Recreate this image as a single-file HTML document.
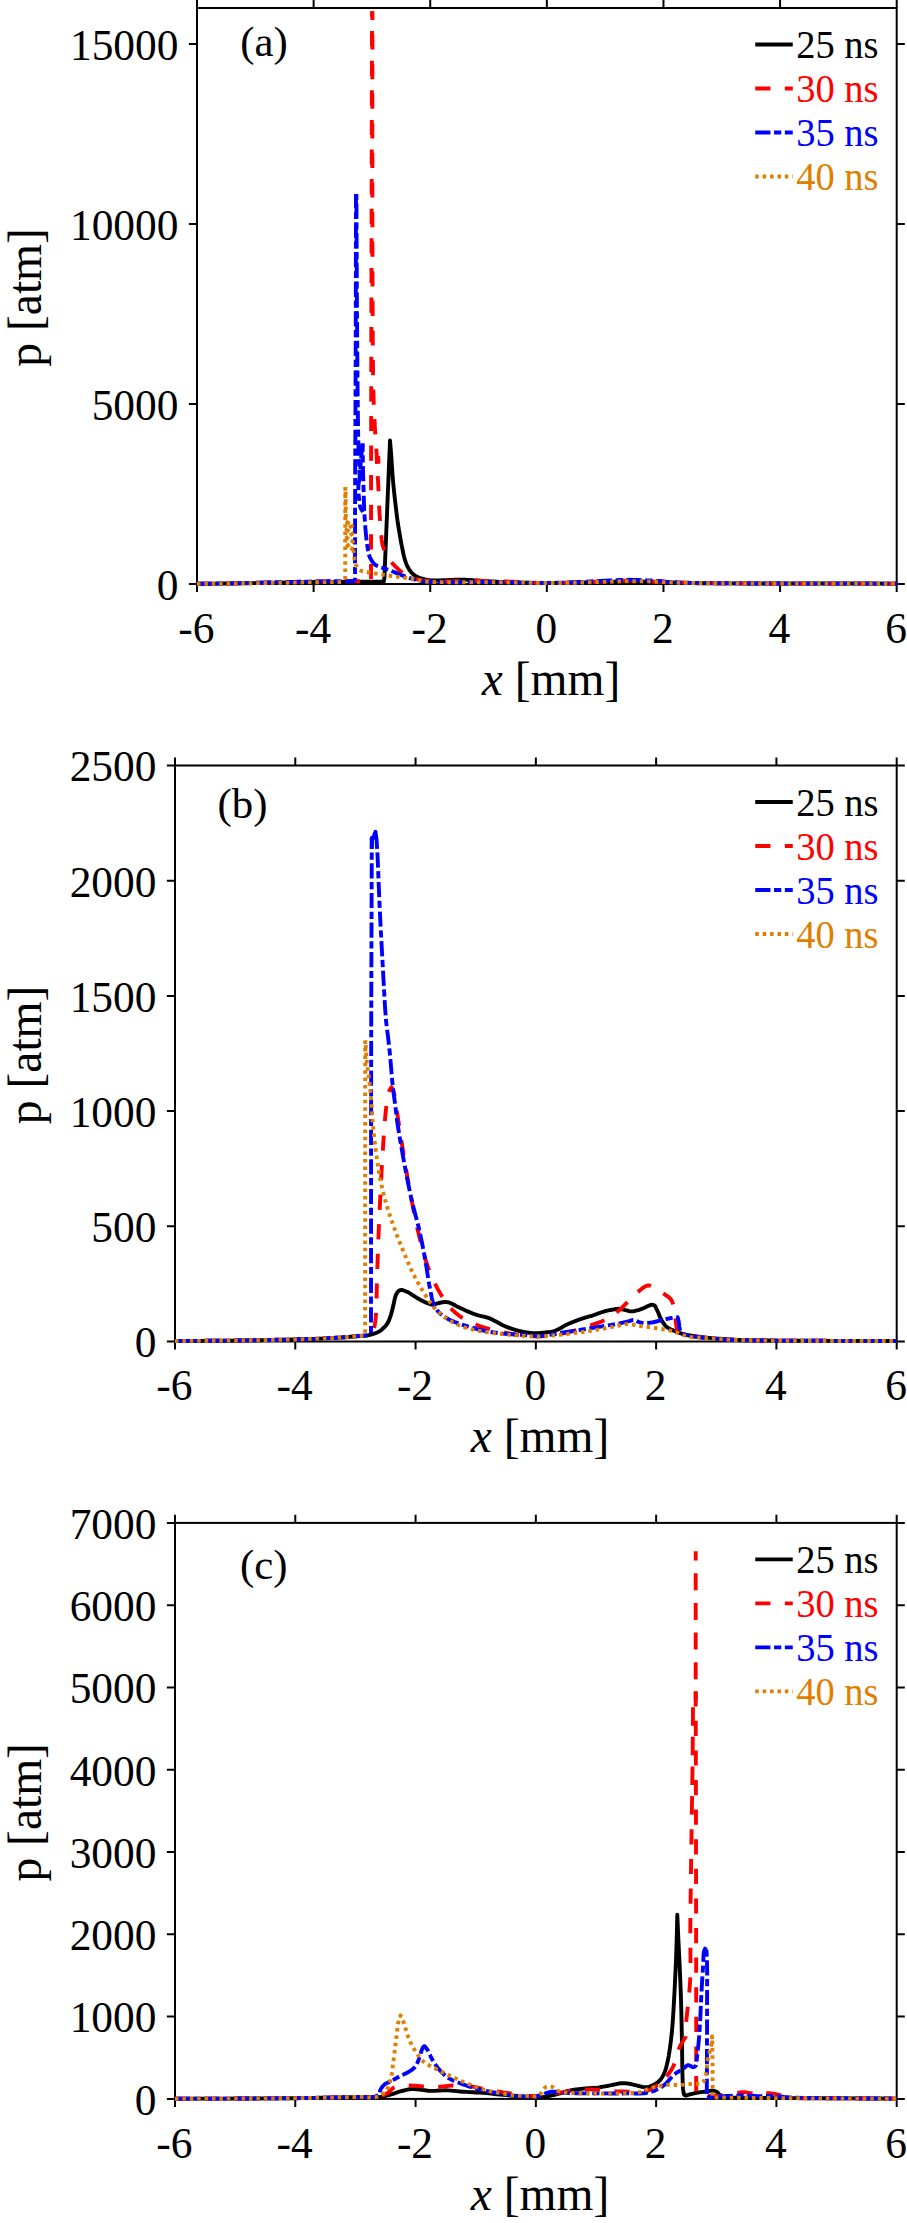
<!DOCTYPE html>
<html lang="en"><head><meta charset="utf-8"><title>Pressure profiles</title>
<style>html,body{margin:0;padding:0;background:#fff}body{width:907px;height:2223px;overflow:hidden}svg{display:block}text{font-family:"Liberation Serif", "DejaVu Serif", serif;fill:#000}</style></head><body>
<svg width="907" height="2223" viewBox="0 0 907 2223">
<rect x="0" y="0" width="907" height="2223" fill="#ffffff"/>
<g id="panel-a">
<clipPath id="clip-a"><rect x="197" y="11.2" width="701.7" height="578"/></clipPath>
<rect x="197" y="8" width="699.7" height="576" fill="none" stroke="#000" stroke-width="2.0"/>
<path d="M197 584v8.1M197 8v-8.1M313.62 584v8.1M313.62 8v-8.1M430.23 584v8.1M430.23 8v-8.1M546.85 584v8.1M546.85 8v-8.1M663.47 584v8.1M663.47 8v-8.1M780.08 584v8.1M780.08 8v-8.1M896.7 584v8.1M896.7 8v-8.1M197 584h-8.1M896.7 584h8.1M197 404h-8.1M896.7 404h8.1M197 224h-8.1M896.7 224h8.1M197 44h-8.1M896.7 44h8.1" fill="none" stroke="#000" stroke-width="2.0"/>
<text transform="translate(196.4 642.75) scale(1.015 1.05)" font-size="42.8" text-anchor="middle">-6</text>
<text transform="translate(313.02 642.75) scale(1.015 1.05)" font-size="42.8" text-anchor="middle">-4</text>
<text transform="translate(429.63 642.75) scale(1.015 1.05)" font-size="42.8" text-anchor="middle">-2</text>
<text transform="translate(546.25 642.75) scale(1.015 1.05)" font-size="42.8" text-anchor="middle">0</text>
<text transform="translate(662.87 642.75) scale(1.015 1.05)" font-size="42.8" text-anchor="middle">2</text>
<text transform="translate(779.48 642.75) scale(1.015 1.05)" font-size="42.8" text-anchor="middle">4</text>
<text transform="translate(896.1 642.75) scale(1.015 1.05)" font-size="42.8" text-anchor="middle">6</text>
<text transform="translate(178.5 599.8) scale(1.015 1.05)" font-size="42.8" text-anchor="end">0</text>
<text transform="translate(178.5 419.8) scale(1.015 1.05)" font-size="42.8" text-anchor="end">5000</text>
<text transform="translate(178.5 239.8) scale(1.015 1.05)" font-size="42.8" text-anchor="end">10000</text>
<text transform="translate(178.5 59.8) scale(1.015 1.05)" font-size="42.8" text-anchor="end">15000</text>
<text x="551.05" y="694.6" font-size="47.5" text-anchor="middle"><tspan font-style="italic">x</tspan> [mm]</text>
<text transform="translate(41.1 297.4) rotate(-90)" font-size="47.5" text-anchor="middle">p [atm]</text>
<g clip-path="url(#clip-a)" fill="none" stroke-width="3.9" stroke-linejoin="round">
<path d="M197 583.8L204.18 583.74L211.39 583.68L218.6 583.63L225.78 583.57L232.92 583.49L240 583.4L246.75 583.29L253.44 583.16L260.09 583.01L266.72 582.87L273.35 582.73L280 582.6L286.73 582.48L293.55 582.37L300.36 582.26L307.09 582.16L313.67 582.07L320 582L325.23 581.95L330.26 581.9L335.16 581.87L340.03 581.84L344.95 581.82L350 581.8L355.49 581.79L361.06 581.78L366.68 581.79L372.33 581.79L377.98 581.8L383.6 581.8L384.4 578L390 440.5L390.2 442.89L390.4 445.25L390.6 447.62L390.81 450.01L391 452.46L391.2 455L391.42 458.09L391.63 461.31L391.84 464.62L392.05 467.94L392.27 471.22L392.5 474.4L392.73 477.25L392.97 480.06L393.21 482.84L393.47 485.58L393.73 488.3L394 491L394.27 493.55L394.54 496.08L394.83 498.58L395.12 501.07L395.41 503.54L395.7 506L395.98 508.37L396.25 510.73L396.52 513.08L396.8 515.41L397.09 517.72L397.4 520L397.71 522.14L398.03 524.24L398.36 526.32L398.7 528.4L399.04 530.49L399.4 532.6L399.77 534.81L400.16 537.05L400.55 539.29L400.95 541.54L401.37 543.78L401.8 546L402.24 548.22L402.7 550.49L403.17 552.75L403.65 554.95L404.16 557.05L404.7 559L405.12 560.4L405.55 561.72L405.99 562.97L406.45 564.18L406.95 565.35L407.5 566.5L408.05 567.55L408.64 568.58L409.25 569.58L409.9 570.53L410.58 571.44L411.3 572.3L412 573.05L412.73 573.76L413.48 574.43L414.27 575.06L415.11 575.65L416 576.2L417.07 576.77L418.21 577.28L419.41 577.74L420.66 578.16L421.92 578.54L423.2 578.9L424.58 579.25L425.99 579.56L427.42 579.84L428.89 580.07L430.42 580.25L432 580.4L434.01 580.5L436.11 580.51L438.28 580.46L440.5 580.37L442.75 580.28L445 580.2L447.44 580.11L449.92 579.98L452.43 579.84L454.96 579.71L457.49 579.62L460 579.6L462.5 579.65L465 579.76L467.5 579.9L470 580.07L472.5 580.24L475 580.4L477.48 580.56L479.92 580.73L482.37 580.9L484.84 581.07L487.37 581.24L490 581.4L493.1 581.57L496.25 581.73L499.47 581.89L502.81 582.03L506.31 582.17L510 582.3L515.34 582.46L521.16 582.61L527.26 582.75L533.41 582.86L539.39 582.95L545 583L549.38 583.01L553.56 583.01L557.62 582.98L561.65 582.93L565.75 582.87L570 582.8L574.84 582.7L579.8 582.57L584.83 582.43L589.9 582.27L594.97 582.13L600 582L605 581.87L610 581.73L615 581.6L620 581.49L625 581.42L630 581.4L634.95 581.45L639.84 581.56L644.73 581.71L649.68 581.88L654.75 582.05L660 582.2L665.98 582.37L671.79 582.55L677.75 582.73L684.21 582.9L691.51 583.06L700 583.2L724.2 583.41L754.61 583.52L789.17 583.56L825.81 583.56L862.44 583.56L897 583.6" stroke="#000000"/>
<path d="M197 583.8L204.18 583.71L211.39 583.62L218.6 583.53L225.78 583.43L232.92 583.33L240 583.2L246.75 583.05L253.44 582.89L260.09 582.71L266.72 582.53L273.35 582.36L280 582.2L286.73 582.05L293.55 581.9L300.36 581.75L307.09 581.61L313.67 581.5L320 581.4L325.31 581.33L330.53 581.28L335.62 581.24L340.58 581.21L345.38 581.2L350 581.2L353.66 581.21L357.15 581.24L360.54 581.28L363.88 581.32L367.21 581.36L370.6 581.4" stroke="#ff0000" stroke-dasharray="15.2 14.4"/>
<path d="M372.2 -57.7L372.02 20.99L371.84 102.57L371.65 184.16L371.47 262.85L371.32 335.76L371.2 400L371.15 435.01L371.11 466.58L371.08 495.85L371.05 523.99L371.03 552.12L371 581.4" stroke="#ff0000" stroke-dasharray="15.2 14.4"/>
<path d="M372.4 -54.4L372.41 7.18L372.39 71.77L372.36 136.36L372.37 197.94L372.44 253.49L372.6 300L372.7 320.67L372.77 339.33L372.87 356.29L373.02 371.86L373.25 386.32L373.6 400L373.93 408.9L374.34 417.51L374.79 425.63L375.24 433.05L375.66 439.58L376 445L376.14 447.09L376.27 448.88L376.39 450.48L376.51 451.96L376.61 453.44L376.7 455L376.77 456.55L376.83 458.09L376.87 459.62L376.91 461.15L376.95 462.67L377 464.2" stroke="#ff0000" stroke-dasharray="15.2 14.4"/>
<path d="M378.2 456L378.5 463.6" stroke="#ff0000"/>
<path d="M377.7 476.1L377.78 477.36L377.86 478.55L377.94 479.74L378.02 481L378.11 482.4L378.2 484L378.38 487.77L378.55 492.3L378.74 497.33L378.95 502.63L379.2 507.93L379.5 513L379.85 518.23L380.24 523.78L380.67 529.35L381.14 534.62L381.65 539.27L382.2 543L382.47 544.37L382.74 545.53L383.02 546.55L383.31 547.51L383.64 548.47L384 549.5L384.41 550.67L384.85 551.86L385.32 553.05L385.83 554.23L386.38 555.38L387 556.5L387.7 557.6L388.48 558.66L389.31 559.7L390.17 560.72L391.04 561.72L391.9 562.7L392.73 563.63L393.57 564.55L394.42 565.44L395.27 566.32L396.14 567.17L397 568L397.81 568.76L398.6 569.5L399.39 570.21L400.21 570.92L401.07 571.61L402 572.3L403.19 573.13L404.45 573.97L405.77 574.79L407.15 575.58L408.56 576.33L410 577L411.53 577.64L413.08 578.21L414.67 578.73L416.33 579.2L418.1 579.62L420 580L422.87 580.44L425.99 580.76L429.3 581L432.77 581.17L436.35 581.29L440 581.4L444.72 581.46L449.77 581.42L455 581.32L460.22 581.19L465.28 581.07L470 581L473.57 580.98L476.97 580.96L480.25 580.94L483.48 580.94L486.71 580.96L490 581L493.33 581.06L496.67 581.14L500 581.24L503.33 581.35L506.67 581.47L510 581.6L513.37 581.75L516.77 581.93L520.18 582.11L523.55 582.29L526.83 582.46L530 582.6L532.58 582.7L535.02 582.79L537.4 582.87L539.8 582.93L542.3 582.97L545 583L548.77 583L552.78 582.96L556.96 582.9L561.26 582.81L565.63 582.71L570 582.6L574.84 582.47L579.8 582.31L584.83 582.14L589.9 581.96L594.97 581.77L600 581.6L605 581.41L610 581.19L615 580.96L620 580.77L625 580.64L630 580.6L634.95 580.67L639.84 580.84L644.73 581.07L649.68 581.33L654.75 581.58L660 581.8L666.24 582.02L672.61 582.24L679.13 582.46L685.85 582.66L692.8 582.84L700 583L709.02 583.15L718.2 583.26L727.72 583.34L737.74 583.39L748.45 583.45L760 583.5L779.61 583.57L801.54 583.62L825.01 583.64L849.27 583.66L873.52 583.67L897 583.7" stroke="#ff0000" stroke-dasharray="15.2 14.4"/>
<path d="M197 583.8L204.18 583.71L211.39 583.62L218.6 583.53L225.78 583.43L232.92 583.33L240 583.2L246.75 583.05L253.44 582.89L260.09 582.71L266.72 582.53L273.35 582.36L280 582.2L286.77 582.05L293.68 581.9L300.58 581.75L307.36 581.61L313.87 581.5L320 581.4L324.64 581.34L329.2 581.28L333.6 581.24L337.75 581.2L341.58 581.19L345 581.2L346.86 581.22L348.53 581.25L350.08 581.28L351.57 581.32L353.05 581.36L354.6 581.4" stroke="#0000ff" stroke-dasharray="15.2 3.6 7.2 3.6"/>
<path d="M356 193.9L355.95 219.95L355.91 246.05L355.87 272.14L355.82 298.2L355.77 324.16L355.7 350L355.61 375.7L355.5 401.91L355.39 428.03L355.27 453.48L355.17 477.67L355.1 500L355.07 515L355.05 528.96L355.03 542.24L355.02 555.18L355.01 568.12L355 581.4" stroke="#0000ff" stroke-dasharray="15.2 3.6 7.2 3.6" stroke-dashoffset="1"/>
<path d="M356.4 193.9L356.48 211.62L356.55 229.38L356.63 247.15L356.71 264.87L356.8 282.5L356.9 300L357.01 317.36L357.14 335.22L357.27 353L357.41 370.11L357.55 385.97L357.7 400L357.79 407.85L357.88 415.11L357.97 421.87L358.07 428.21L358.18 434.23L358.3 440L358.4 444.08L358.51 447.92L358.62 451.59L358.74 455.12L358.87 458.57L359 462L359.12 464.96L359.25 467.83L359.39 470.64L359.53 473.41L359.66 476.19L359.8 479L359.96 476.17L360.11 473.36L360.26 470.54L360.41 467.72L360.59 464.87L360.8 462L361.06 458.96L361.34 455.89L361.65 452.8L361.97 449.69L362.29 446.59L362.6 443.5" stroke="#0000ff" stroke-dasharray="15.2 3.6 7.2 3.6" stroke-dashoffset="19.9"/>
<path d="M359.6 478L359.38 479.32L359.14 480.62L358.91 481.92L358.69 483.24L358.51 484.59L358.4 486L358.35 487.73L358.37 489.54L358.45 491.39L358.57 493.27L358.72 495.15L358.9 497L359.08 498.91L359.28 500.89L359.5 502.87L359.79 504.77L360.14 506.51L360.6 508L360.97 508.81L361.38 509.52L361.83 510.16L362.29 510.76L362.75 511.36L363.2 512" stroke="#0000ff" stroke-dasharray="15.2 3.6 7.2 3.6" stroke-dashoffset="3"/>
<path d="M362.6 443.5L362.66 447.96L362.72 452.47L362.78 456.98L362.84 461.44L362.92 465.8L363 470L363.09 473.52L363.18 476.95L363.29 480.3L363.4 483.58L363.5 486.81L363.6 490L363.68 492.86L363.76 495.69L363.83 498.46L363.91 501.2L364 503.88L364.1 506.5L364.2 508.79L364.3 511.01L364.42 513.19L364.54 515.36L364.66 517.52L364.8 519.7L364.94 521.9L365.09 524.1L365.24 526.3L365.41 528.5L365.6 530.7L365.8 532.9L366.02 535.14L366.26 537.41L366.52 539.68L366.79 541.92L367.08 544.1L367.4 546.2L367.67 547.97L367.94 549.72L368.22 551.43L368.55 553.08L368.93 554.64L369.4 556.1L369.85 557.22L370.36 558.29L370.91 559.31L371.49 560.26L372.09 561.16L372.7 562L373.19 562.64L373.68 563.24L374.18 563.8L374.72 564.32L375.32 564.82L376 565.3L377.1 565.9L378.38 566.43L379.76 566.92L381.2 567.38L382.64 567.83L384 568.3L385.22 568.75L386.41 569.17L387.59 569.6L388.79 570.03L390.05 570.49L391.4 571L393.38 571.78L395.5 572.66L397.72 573.59L400.02 574.54L402.36 575.45L404.7 576.3L407.23 577.17L409.81 578.04L412.43 578.88L415.1 579.66L417.82 580.34L420.6 580.9L423.7 581.34L426.89 581.63L430.14 581.81L433.43 581.93L436.72 582.01L440 582.1L443.31 582.19L446.64 582.23L449.98 582.24L453.32 582.23L456.66 582.21L460 582.2L463.33 582.18L466.67 582.14L470 582.09L473.33 582.05L476.67 582.01L480 582L483.33 582.01L486.67 582.03L490 582.06L493.33 582.1L496.67 582.15L500 582.2L503.31 582.26L506.58 582.32L509.86 582.39L513.17 582.46L516.54 582.53L520 582.6L524.01 582.68L528.13 582.77L532.33 582.87L536.56 582.94L540.8 582.99L545 583L549.14 582.97L553.25 582.9L557.36 582.8L561.5 582.68L565.7 582.55L570 582.4L574.84 582.21L579.8 581.98L584.83 581.74L589.9 581.48L594.97 581.23L600 581L605.03 580.76L610.1 580.5L615.17 580.24L620.2 580.01L625.16 579.86L630 579.8L634.33 579.84L638.61 579.96L642.82 580.13L646.96 580.34L651.02 580.57L655 580.8L658.44 581.03L661.75 581.29L665 581.57L668.25 581.84L671.56 582.09L675 582.3L678.88 582.48L682.73 582.62L686.65 582.73L690.76 582.83L695.18 582.91L700 583L708.22 583.13L717.18 583.23L726.86 583.31L737.23 583.38L748.29 583.44L760 583.5L779.61 583.57L801.54 583.62L825.01 583.64L849.27 583.66L873.52 583.67L897 583.7" stroke="#0000ff" stroke-dasharray="15.2 3.6 7.2 3.6" stroke-dashoffset="7"/>
<path d="M197 583.8L204.18 583.74L211.39 583.68L218.6 583.61L225.78 583.55L232.92 583.48L240 583.4L246.75 583.31L253.44 583.22L260.09 583.11L266.72 583.01L273.35 582.9L280 582.8L286.78 582.7L293.69 582.59L300.6 582.48L307.38 582.37L313.89 582.28L320 582.2L324.44 582.15L328.64 582.12L332.67 582.09L336.62 582.06L340.57 582.03L344.6 582" stroke="#e07e00" stroke-dasharray="3.5 3.9"/>
<path d="M345.3 487.2L345.2 581.5" stroke="#e07e00" stroke-dasharray="3.5 3.9"/>
<path d="M345.6 487.2L345.8 521.5" stroke="#e07e00" stroke-dasharray="3.5 3.9" stroke-dashoffset="2.8"/>
<path d="M345.8 521.5L352.2 525.6L346.4 529.6L352.5 533.6L346.6 537.6L353 541.6L347.2 545.8L353.4 549.5" stroke="#e07e00" stroke-dasharray="4.6 2.2"/>
<path d="M353.4 549.5L353.53 550.7L353.65 551.9L353.77 553.1L353.9 554.3L354.04 555.5L354.2 556.7L354.36 557.93L354.49 559.18L354.65 560.43L354.84 561.66L355.12 562.85L355.5 564L355.97 565.12L356.52 566.24L357.14 567.32L357.84 568.34L358.62 569.25L359.5 570L360.53 570.58L361.69 571L362.95 571.31L364.24 571.54L365.54 571.75L366.8 572L368 572.26L369.2 572.49L370.39 572.71L371.59 572.91L372.8 573.11L374 573.3L375.21 573.48L376.43 573.64L377.65 573.8L378.87 573.96L380.08 574.12L381.3 574.3L382.52 574.5L383.74 574.73L384.97 574.95L386.18 575.18L387.4 575.4L388.6 575.6L389.71 575.76L390.77 575.91L391.82 576.04L392.91 576.18L394.09 576.33L395.4 576.5L397.84 576.82L400.64 577.19L403.66 577.59L406.75 578.01L409.78 578.45L412.6 578.9L414.9 579.33L417.11 579.81L419.28 580.3L421.42 580.76L423.59 581.18L425.8 581.5L428.1 581.73L430.4 581.87L432.71 581.96L435.06 582.01L437.49 582.05L440 582.1L443.14 582.16L446.41 582.19L449.79 582.2L453.21 582.2L456.63 582.2L460 582.2L463.33 582.2L466.67 582.2L470 582.2L473.33 582.2L476.67 582.2L480 582.2L483.33 582.21L486.67 582.22L490 582.23L493.33 582.25L496.67 582.27L500 582.3L503.31 582.34L506.58 582.38L509.86 582.43L513.17 582.49L516.54 582.54L520 582.6L524.01 582.67L528.13 582.75L532.33 582.83L536.56 582.91L540.8 582.97L545 583L549.14 583.01L553.25 583L557.36 582.97L561.5 582.93L565.7 582.87L570 582.8L574.84 582.7L579.8 582.58L584.83 582.44L589.9 582.29L594.97 582.14L600 582L605.07 581.85L610.22 581.69L615.38 581.52L620.45 581.37L625.35 581.26L630 581.2L633.57 581.19L636.97 581.21L640.25 581.26L643.48 581.32L646.71 581.41L650 581.5L653.29 581.62L656.52 581.77L659.75 581.93L663.03 582.1L666.43 582.26L670 582.4L674.53 582.55L679.17 582.68L683.98 582.8L689.01 582.91L694.33 583.01L700 583.1L708.53 583.21L717.57 583.29L727.19 583.36L737.43 583.41L748.35 583.45L760 583.5L779.61 583.56L801.54 583.6L825.01 583.63L849.27 583.65L873.52 583.67L897 583.7" stroke="#e07e00" stroke-dasharray="3.5 3.9"/>
</g>
<text x="240.2" y="56.2" font-size="42.8">(a)</text>
<path d="M755.25 44.5H792.75" stroke="#000000" stroke-width="3.9" fill="none"/>
<text transform="translate(796.2 58.4) scale(1 1.02)" font-size="38.5" style="fill:#000000">25 ns</text>
<path d="M755.25 88.5H792.75" stroke="#ff0000" stroke-width="3.9" fill="none" stroke-dasharray="15.2 14.4"/>
<text transform="translate(796.2 102.4) scale(1 1.02)" font-size="38.5" style="fill:#ff0000">30 ns</text>
<path d="M755.25 132.5H792.75" stroke="#0000ff" stroke-width="3.9" fill="none" stroke-dasharray="15.2 3.6 7.2 3.6"/>
<text transform="translate(796.2 146.4) scale(1 1.02)" font-size="38.5" style="fill:#0000ff">35 ns</text>
<path d="M755.25 176.5H792.75" stroke="#e07e00" stroke-width="3.9" fill="none" stroke-dasharray="3.5 3.9"/>
<text transform="translate(796.2 190.4) scale(1 1.02)" font-size="38.5" style="fill:#e07e00">40 ns</text>
</g>
<g id="panel-b">
<clipPath id="clip-b"><rect x="175" y="768.7" width="723.7" height="578"/></clipPath>
<rect x="175" y="765.5" width="721.7" height="576" fill="none" stroke="#000" stroke-width="2.0"/>
<path d="M175 1341.5v8.1M175 765.5v-8.1M295.28 1341.5v8.1M295.28 765.5v-8.1M415.57 1341.5v8.1M415.57 765.5v-8.1M535.85 1341.5v8.1M535.85 765.5v-8.1M656.13 1341.5v8.1M656.13 765.5v-8.1M776.42 1341.5v8.1M776.42 765.5v-8.1M896.7 1341.5v8.1M896.7 765.5v-8.1M175 1341.5h-8.1M896.7 1341.5h8.1M175 1226.3h-8.1M896.7 1226.3h8.1M175 1111.1h-8.1M896.7 1111.1h8.1M175 995.9h-8.1M896.7 995.9h8.1M175 880.7h-8.1M896.7 880.7h8.1M175 765.5h-8.1M896.7 765.5h8.1" fill="none" stroke="#000" stroke-width="2.0"/>
<text transform="translate(174.4 1400.25) scale(1.015 1.05)" font-size="42.8" text-anchor="middle">-6</text>
<text transform="translate(294.68 1400.25) scale(1.015 1.05)" font-size="42.8" text-anchor="middle">-4</text>
<text transform="translate(414.97 1400.25) scale(1.015 1.05)" font-size="42.8" text-anchor="middle">-2</text>
<text transform="translate(535.25 1400.25) scale(1.015 1.05)" font-size="42.8" text-anchor="middle">0</text>
<text transform="translate(655.53 1400.25) scale(1.015 1.05)" font-size="42.8" text-anchor="middle">2</text>
<text transform="translate(775.82 1400.25) scale(1.015 1.05)" font-size="42.8" text-anchor="middle">4</text>
<text transform="translate(896.1 1400.25) scale(1.015 1.05)" font-size="42.8" text-anchor="middle">6</text>
<text transform="translate(156.5 1357.3) scale(1.015 1.05)" font-size="42.8" text-anchor="end">0</text>
<text transform="translate(156.5 1242.1) scale(1.015 1.05)" font-size="42.8" text-anchor="end">500</text>
<text transform="translate(156.5 1126.9) scale(1.015 1.05)" font-size="42.8" text-anchor="end">1000</text>
<text transform="translate(156.5 1011.7) scale(1.015 1.05)" font-size="42.8" text-anchor="end">1500</text>
<text transform="translate(156.5 896.5) scale(1.015 1.05)" font-size="42.8" text-anchor="end">2000</text>
<text transform="translate(156.5 781.3) scale(1.015 1.05)" font-size="42.8" text-anchor="end">2500</text>
<text x="540.05" y="1452.1" font-size="47.5" text-anchor="middle"><tspan font-style="italic">x</tspan> [mm]</text>
<text transform="translate(41.1 1054.9) rotate(-90)" font-size="47.5" text-anchor="middle">p [atm]</text>
<g clip-path="url(#clip-b)" fill="none" stroke-width="3.9" stroke-linejoin="round">
<path d="M175 1341L184.2 1340.94L193.43 1340.88L202.66 1340.83L211.86 1340.77L220.99 1340.69L230 1340.6L238.54 1340.5L247.05 1340.38L255.5 1340.26L263.83 1340.12L272.02 1339.97L280 1339.8L287.03 1339.63L294.01 1339.46L300.86 1339.27L307.53 1339.06L313.93 1338.84L320 1338.6L324.58 1338.39L329 1338.17L333.26 1337.94L337.36 1337.69L341.27 1337.45L345 1337.2L347.79 1337L350.51 1336.78L353.13 1336.56L355.6 1336.35L357.9 1336.16L360 1336L361.24 1335.93L362.37 1335.89L363.42 1335.85L364.44 1335.81L365.45 1335.73L366.5 1335.6L367.59 1335.42L368.68 1335.2L369.76 1334.95L370.84 1334.66L371.92 1334.35L373 1334L374.14 1333.6L375.31 1333.17L376.48 1332.71L377.61 1332.21L378.7 1331.67L379.7 1331.1L380.51 1330.57L381.27 1330L381.99 1329.41L382.67 1328.79L383.34 1328.16L384 1327.5L384.65 1326.83L385.29 1326.15L385.91 1325.45L386.5 1324.71L387.07 1323.93L387.6 1323.1L388.17 1322.05L388.69 1320.92L389.18 1319.74L389.63 1318.51L390.07 1317.26L390.5 1316L390.95 1314.6L391.38 1313.15L391.79 1311.67L392.18 1310.19L392.55 1308.72L392.9 1307.3L393.2 1306.04L393.46 1304.78L393.72 1303.54L393.97 1302.33L394.22 1301.14L394.5 1300L394.74 1299.03L394.98 1298.08L395.21 1297.15L395.47 1296.25L395.76 1295.4L396.1 1294.6L396.42 1293.94L396.76 1293.3L397.12 1292.69L397.52 1292.13L397.94 1291.63L398.4 1291.2L398.84 1290.88L399.32 1290.6L399.82 1290.36L400.34 1290.18L400.87 1290.06L401.4 1290L401.98 1290.02L402.57 1290.14L403.18 1290.31L403.79 1290.53L404.4 1290.77L405 1291L405.63 1291.23L406.25 1291.48L406.87 1291.75L407.5 1292.04L408.14 1292.36L408.8 1292.7L409.63 1293.17L410.48 1293.7L411.35 1294.27L412.23 1294.85L413.12 1295.44L414 1296L414.88 1296.56L415.77 1297.11L416.65 1297.67L417.54 1298.22L418.46 1298.76L419.4 1299.3L420.45 1299.88L421.53 1300.47L422.64 1301.05L423.75 1301.6L424.88 1302.13L426 1302.6L427.09 1303.04L428.19 1303.49L429.29 1303.9L430.4 1304.25L431.5 1304.49L432.6 1304.6L433.67 1304.53L434.73 1304.3L435.79 1303.98L436.85 1303.62L437.92 1303.27L439 1303L440.13 1302.77L441.28 1302.52L442.44 1302.3L443.59 1302.12L444.72 1302.01L445.8 1302L446.72 1302.08L447.62 1302.23L448.49 1302.43L449.36 1302.68L450.22 1302.98L451.1 1303.3L452.07 1303.71L453.04 1304.2L454 1304.74L454.98 1305.3L455.97 1305.86L457 1306.4L458.19 1306.98L459.41 1307.58L460.67 1308.17L461.93 1308.76L463.18 1309.34L464.4 1309.9L465.52 1310.41L466.62 1310.91L467.72 1311.4L468.81 1311.88L469.9 1312.35L471 1312.8L472.08 1313.23L473.13 1313.64L474.19 1314.05L475.27 1314.44L476.4 1314.82L477.6 1315.2L479.24 1315.64L481.01 1316.03L482.86 1316.42L484.71 1316.82L486.52 1317.27L488.2 1317.8L489.59 1318.35L490.91 1318.95L492.19 1319.59L493.45 1320.26L494.71 1320.93L496 1321.6L497.34 1322.3L498.69 1323.02L500.04 1323.75L501.39 1324.47L502.74 1325.16L504.1 1325.8L505.41 1326.37L506.72 1326.9L508.03 1327.41L509.35 1327.89L510.67 1328.35L512 1328.8L513.32 1329.23L514.65 1329.65L515.98 1330.04L517.32 1330.42L518.66 1330.77L520 1331.1L521.33 1331.4L522.66 1331.69L524 1331.95L525.33 1332.19L526.67 1332.41L528 1332.6L529.3 1332.76L530.6 1332.91L531.89 1333.03L533.19 1333.12L534.49 1333.18L535.8 1333.2L537.15 1333.18L538.5 1333.11L539.86 1333.01L541.23 1332.89L542.61 1332.75L544 1332.6L545.52 1332.45L547.09 1332.29L548.67 1332.12L550.24 1331.91L551.76 1331.64L553.2 1331.3L554.41 1330.92L555.58 1330.48L556.7 1330L557.81 1329.48L558.9 1328.95L560 1328.4L561.1 1327.82L562.18 1327.19L563.26 1326.54L564.33 1325.89L565.41 1325.27L566.5 1324.7L567.57 1324.2L568.65 1323.73L569.73 1323.29L570.82 1322.86L571.91 1322.43L573 1322L574.11 1321.55L575.23 1321.1L576.35 1320.66L577.47 1320.22L578.59 1319.8L579.7 1319.4L580.75 1319.04L581.8 1318.69L582.84 1318.36L583.88 1318.04L584.93 1317.72L586 1317.4L587.13 1317.07L588.28 1316.74L589.44 1316.42L590.6 1316.1L591.76 1315.76L592.9 1315.4L594.01 1315.02L595.11 1314.62L596.21 1314.21L597.3 1313.79L598.4 1313.39L599.5 1313L600.61 1312.62L601.72 1312.25L602.83 1311.88L603.95 1311.53L605.07 1311.2L606.2 1310.9L607.33 1310.63L608.46 1310.39L609.6 1310.17L610.74 1309.97L611.87 1309.78L613 1309.6L614.08 1309.41L615.15 1309.22L616.22 1309.03L617.29 1308.88L618.35 1308.8L619.4 1308.8L620.43 1308.91L621.45 1309.11L622.47 1309.37L623.48 1309.67L624.49 1309.95L625.5 1310.2L626.47 1310.43L627.44 1310.69L628.41 1310.95L629.37 1311.17L630.34 1311.33L631.3 1311.4L632.25 1311.37L633.2 1311.26L634.14 1311.09L635.09 1310.88L636.04 1310.65L637 1310.4L638.04 1310.12L639.09 1309.8L640.15 1309.45L641.2 1309.07L642.22 1308.69L643.2 1308.3L644.04 1307.93L644.86 1307.52L645.65 1307.11L646.43 1306.7L647.21 1306.33L648 1306L648.77 1305.71L649.55 1305.42L650.34 1305.15L651.11 1304.94L651.83 1304.81L652.5 1304.8L652.98 1304.88L653.44 1305.01L653.87 1305.2L654.28 1305.43L654.66 1305.7L655 1306L655.31 1306.37L655.55 1306.8L655.77 1307.27L655.97 1307.77L656.17 1308.28L656.4 1308.8L656.72 1309.44L657.05 1310.12L657.39 1310.82L657.73 1311.54L658.07 1312.27L658.4 1313L658.73 1313.81L659.05 1314.65L659.37 1315.5L659.69 1316.35L660.03 1317.19L660.4 1318L660.79 1318.77L661.21 1319.52L661.64 1320.27L662.09 1320.99L662.54 1321.71L663 1322.4L663.43 1323.04L663.85 1323.68L664.29 1324.3L664.73 1324.9L665.2 1325.47L665.7 1326L666.21 1326.47L666.74 1326.9L667.29 1327.31L667.86 1327.69L668.43 1328.05L669 1328.4L669.53 1328.7L670.06 1328.98L670.59 1329.23L671.13 1329.48L671.7 1329.73L672.3 1330L673.09 1330.36L673.94 1330.73L674.81 1331.11L675.71 1331.49L676.61 1331.85L677.5 1332.2L678.37 1332.53L679.22 1332.84L680.08 1333.14L680.96 1333.43L681.89 1333.72L682.9 1334L684.39 1334.37L686.01 1334.73L687.72 1335.07L689.48 1335.4L691.25 1335.71L693 1336L694.78 1336.28L696.55 1336.53L698.34 1336.76L700.16 1336.97L702.04 1337.19L704 1337.4L706.48 1337.65L709.07 1337.9L711.74 1338.14L714.47 1338.37L717.23 1338.59L720 1338.8L722.92 1339.03L725.79 1339.25L728.7 1339.46L731.73 1339.66L734.97 1339.84L738.5 1340L744.21 1340.19L750.33 1340.32L756.9 1340.41L763.99 1340.47L771.67 1340.53L780 1340.6L796.07 1340.71L814.61 1340.79L834.79 1340.85L855.8 1340.89L876.81 1340.94L897 1341" stroke="#000000"/>
<path d="M175 1341L184.2 1340.94L193.43 1340.88L202.66 1340.83L211.86 1340.77L220.99 1340.69L230 1340.6L238.54 1340.5L247.05 1340.38L255.5 1340.26L263.83 1340.12L272.02 1339.97L280 1339.8L287.03 1339.63L294.01 1339.46L300.86 1339.27L307.53 1339.06L313.93 1338.84L320 1338.6L324.58 1338.39L329 1338.17L333.26 1337.94L337.36 1337.69L341.27 1337.45L345 1337.2L347.72 1337.01L350.28 1336.81L352.74 1336.61L355.14 1336.4L357.54 1336.2L360 1336" stroke="#ff0000" stroke-dasharray="15.2 14.4"/>
<path d="M360 1336L361.1 1335.87L362.21 1335.76L363.33 1335.64L364.43 1335.52L365.49 1335.37L366.5 1335.2L367.33 1335.06L368.14 1334.94L368.94 1334.8L369.69 1334.62L370.38 1334.37L371 1334L371.53 1333.53L371.98 1332.97L372.38 1332.34L372.73 1331.63L373.07 1330.85L373.4 1330L373.91 1328.46L374.36 1326.74L374.74 1324.81L375.09 1322.7L375.41 1320.4L375.7 1317.9L376.12 1312.83L376.39 1306.9L376.57 1300.38L376.69 1293.55L376.82 1286.66L377 1280L377.23 1273.18L377.45 1266.27L377.67 1259.31L377.9 1252.33L378.14 1245.38L378.4 1238.5L378.67 1231.83L378.96 1225.2L379.25 1218.6L379.56 1212L379.88 1205.41L380.2 1198.8L380.52 1192.2L380.85 1185.63L381.18 1179.05L381.52 1172.45L381.9 1165.77L382.3 1159L382.77 1151.39L383.29 1143.36L383.83 1135.24L384.38 1127.41L384.94 1120.21L385.5 1114L385.82 1110.79L386.13 1107.84L386.44 1105.11L386.77 1102.58L387.12 1100.22L387.5 1098L387.78 1096.54L388.06 1095.16L388.35 1093.86L388.66 1092.64L389.01 1091.52L389.4 1090.5L389.71 1089.85L390.05 1089.27L390.41 1088.74L390.78 1088.24L391.14 1087.73L391.5 1087.2L391.85 1087.96L392.21 1088.67L392.57 1089.38L392.92 1090.14L393.27 1090.99L393.6 1092L394.2 1094.4L394.75 1097.27L395.28 1100.52L395.79 1104.03L396.33 1107.69L396.9 1111.4L397.72 1116.58L398.58 1122.19L399.47 1128.07L400.38 1134.07L401.29 1140.03L402.2 1145.8L403.05 1151.1L403.88 1156.26L404.71 1161.39L405.58 1166.58L406.5 1171.95L407.5 1177.6L408.85 1185.1L410.32 1193.13L411.88 1201.42L413.48 1209.71L415.1 1217.72L416.7 1225.2L418 1230.99L419.32 1236.62L420.64 1242.07L421.97 1247.31L423.33 1252.29L424.7 1257L425.75 1260.4L426.78 1263.58L427.83 1266.61L428.91 1269.57L430.06 1272.51L431.3 1275.5L432.68 1278.65L434.14 1281.81L435.66 1284.96L437.25 1288.07L438.9 1291.09L440.6 1294L442.21 1296.62L443.85 1299.19L445.54 1301.69L447.3 1304.11L449.14 1306.41L451.1 1308.6L453.1 1310.61L455.18 1312.51L457.34 1314.32L459.59 1316.03L461.94 1317.66L464.4 1319.2L467.22 1320.77L470.19 1322.22L473.28 1323.56L476.45 1324.81L479.67 1325.99L482.9 1327.1L486.3 1328.17L489.78 1329.15L493.32 1330.04L496.88 1330.87L500.45 1331.65L504 1332.4L507.56 1333.13L511.19 1333.84L514.82 1334.51L518.4 1335.1L521.88 1335.61L525.2 1336L527.81 1336.21L530.32 1336.33L532.76 1336.39L535.16 1336.42L537.56 1336.44L540 1336.5" stroke="#ff0000" stroke-dasharray="15.2 14.4" stroke-dashoffset="11.5"/>
<path d="M540 1336.5L544.42 1335.89L548.85 1335.34L553.28 1334.79L557.7 1334.19L562.11 1333.47L566.5 1332.6L571.01 1331.52L575.6 1330.28L580.17 1328.94L584.64 1327.53L588.91 1326.1L592.9 1324.7L595.85 1323.64L598.68 1322.59L601.38 1321.54L603.96 1320.44L606.44 1319.27L608.8 1318L610.75 1316.8L612.59 1315.55L614.33 1314.24L616.03 1312.88L617.7 1311.46L619.4 1310L621.2 1308.36L622.98 1306.63L624.73 1304.85L626.48 1303.04L628.23 1301.24L630 1299.5L631.81 1297.77L633.68 1295.98L635.55 1294.2L637.37 1292.51L639.08 1290.99L640.6 1289.7L641.43 1289.03L642.19 1288.43L642.91 1287.89L643.6 1287.41L644.3 1286.98L645 1286.6L645.59 1286.31L646.17 1286.05L646.74 1285.83L647.32 1285.65L647.9 1285.54L648.5 1285.5L649.15 1285.56L649.82 1285.71L650.5 1285.94L651.17 1286.21L651.84 1286.51L652.5 1286.8L653.15 1287.1L653.77 1287.43L654.38 1287.78L655.01 1288.15L655.68 1288.56L656.4 1289L657.6 1289.74L658.95 1290.6L660.37 1291.52L661.8 1292.47L663.17 1293.37L664.4 1294.2L665.26 1294.77L666.09 1295.3L666.89 1295.81L667.64 1296.32L668.35 1296.85L669 1297.4L669.51 1297.88L669.99 1298.36L670.43 1298.84L670.84 1299.35L671.23 1299.9L671.6 1300.5L672.01 1301.27L672.38 1302.09L672.71 1302.96L673.02 1303.9L673.32 1304.91L673.6 1306L674 1307.89L674.34 1310.05L674.65 1312.37L674.93 1314.77L675.21 1317.14L675.5 1319.4L675.78 1321.42L676.05 1323.42L676.31 1325.39L676.57 1327.36L676.84 1329.32L677.1 1331.3L677.56 1331.66L677.98 1332.02L678.41 1332.39L678.87 1332.75L679.39 1333.09L680 1333.4L681.28 1333.86L682.79 1334.25L684.49 1334.58L686.3 1334.89L688.16 1335.19L690 1335.5L692.12 1335.88L694.25 1336.25L696.46 1336.6L698.78 1336.95L701.27 1337.28L704 1337.6L708.82 1338.08L714.24 1338.55L720.09 1338.98L726.19 1339.37L732.39 1339.71L738.5 1340L744.95 1340.23L751.27 1340.37L757.69 1340.45L764.46 1340.5L771.82 1340.54L780 1340.6L796.07 1340.71L814.61 1340.79L834.79 1340.85L855.8 1340.89L876.81 1340.94L897 1341" stroke="#ff0000" stroke-dasharray="15.2 14.4" stroke-dashoffset="7.7"/>
<path d="M175 1341L184.2 1340.94L193.43 1340.88L202.66 1340.83L211.86 1340.77L220.99 1340.69L230 1340.6L238.54 1340.5L247.05 1340.38L255.5 1340.26L263.83 1340.12L272.02 1339.97L280 1339.8L287.03 1339.63L294.01 1339.46L300.86 1339.27L307.53 1339.06L313.93 1338.84L320 1338.6L324.58 1338.39L329 1338.17L333.26 1337.94L337.36 1337.69L341.27 1337.45L345 1337.2L347.79 1337L350.51 1336.79L353.13 1336.58L355.6 1336.38L357.9 1336.18L360 1336L361.26 1335.89L362.42 1335.78L363.51 1335.68L364.54 1335.59L365.53 1335.49L366.5 1335.4L367.24 1335.33L367.94 1335.26L368.61 1335.2L369.27 1335.13L369.93 1335.07L370.6 1335" stroke="#0000ff" stroke-dasharray="15.2 3.6 7.2 3.6"/>
<path d="M371.8 838L371.7 871.23L371.59 903.93L371.48 936.63L371.37 969.85L371.28 1004.14L371.2 1040L371.13 1085.88L371.09 1134.07L371.06 1183.79L371.05 1234.28L371.03 1284.78L371 1334.5" stroke="#0000ff" stroke-dasharray="15.2 3.6 7.2 3.6" stroke-dashoffset="4.3"/>
<path d="M371.8 848.5L371.8 838L373.2 838L375.5 831.8L376.6 840L377.1 848.8" stroke="#0000ff"/>
<path d="M377.1 848.8L377.16 849.76L377.23 850.64L377.29 851.51L377.35 852.48L377.42 853.61L377.5 855L377.78 861L378.12 869.28L378.51 879.08L378.93 889.64L379.36 900.2L379.8 910L380.24 919.17L380.71 928.33L381.19 937.5L381.68 946.67L382.19 955.83L382.7 965L383.22 974.54L383.75 984.52L384.3 994.5L384.85 1004.04L385.42 1012.69L386 1020L386.33 1023.34L386.67 1026.28L387.01 1028.95L387.35 1031.48L387.68 1033.99L388 1036.6L388.3 1039.17L388.6 1041.73L388.89 1044.26L389.17 1046.78L389.44 1049.29L389.7 1051.8L389.94 1054.25L390.16 1056.68L390.37 1059.1L390.58 1061.52L390.79 1063.95L391 1066.4L391.21 1068.92L391.42 1071.46L391.62 1074.01L391.83 1076.55L392.06 1079.09L392.3 1081.6L392.56 1084.04L392.83 1086.48L393.12 1088.91L393.41 1091.31L393.71 1093.68L394 1096L394.27 1098.07L394.54 1100.09L394.81 1102.09L395.08 1104.06L395.35 1106.03L395.6 1108L395.81 1109.84L395.99 1111.57L396.17 1113.29L396.36 1115.11L396.6 1117.11L396.9 1119.4L397.67 1124.62L398.65 1130.84L399.78 1137.71L401.01 1144.92L402.26 1152.12L403.5 1159L404.73 1165.69L406 1172.44L407.3 1179.2L408.64 1185.88L410.01 1192.44L411.4 1198.8L412.71 1204.32L414.08 1209.69L415.47 1214.96L416.85 1220.16L418.17 1225.33L419.4 1230.5L420.48 1235.41L421.5 1240.28L422.47 1245.11L423.41 1249.93L424.31 1254.76L425.2 1259.6L426.05 1264.55L426.85 1269.62L427.63 1274.7L428.4 1279.66L429.18 1284.36L430 1288.7L430.59 1291.71L431.15 1294.59L431.72 1297.34L432.34 1299.94L433.05 1302.36L433.9 1304.6L434.63 1306.16L435.4 1307.6L436.23 1308.94L437.13 1310.21L438.11 1311.42L439.2 1312.6L440.51 1313.85L441.94 1315.03L443.47 1316.15L445.09 1317.21L446.77 1318.23L448.5 1319.2L450.5 1320.22L452.59 1321.15L454.76 1322.03L457 1322.87L459.32 1323.68L461.7 1324.5L464.58 1325.46L467.61 1326.41L470.72 1327.33L473.89 1328.21L477.06 1329.04L480.2 1329.8L483.25 1330.49L486.25 1331.13L489.27 1331.72L492.34 1332.26L495.5 1332.75L498.8 1333.2L503.01 1333.65L507.53 1334L512.18 1334.28L516.79 1334.53L521.18 1334.76L525.2 1335L527.86 1335.22L530.29 1335.48L532.6 1335.73L534.91 1335.93L537.34 1336.03L540 1336L543.98 1335.69L548.27 1335.12L552.78 1334.39L557.39 1333.57L562 1332.74L566.5 1332L570.9 1331.33L575.3 1330.66L579.7 1329.98L584.1 1329.3L588.5 1328.61L592.9 1327.9L597.48 1327.16L602.27 1326.38L607.06 1325.59L611.65 1324.82L615.83 1324.08L619.4 1323.4L621.13 1323.04L622.68 1322.69L624.1 1322.35L625.43 1322.02L626.71 1321.71L628 1321.4L629.08 1321.11L630.14 1320.78L631.17 1320.46L632.17 1320.19L633.11 1320.02L634 1320L634.65 1320.11L635.25 1320.31L635.83 1320.57L636.39 1320.86L636.94 1321.15L637.5 1321.4L638 1321.62L638.47 1321.84L638.93 1322.06L639.42 1322.27L639.97 1322.45L640.6 1322.6L641.97 1322.79L643.59 1322.9L645.38 1322.93L647.28 1322.9L649.21 1322.78L651.1 1322.6L653.25 1322.25L655.48 1321.74L657.75 1321.14L660.02 1320.51L662.25 1319.91L664.4 1319.4L666.31 1319.01L668.28 1318.63L670.22 1318.27L672.04 1317.95L673.66 1317.69L675 1317.5L675.53 1317.44L675.99 1317.4L676.41 1317.37L676.8 1317.35L677.19 1317.33L677.6 1317.3L677.77 1317.9L677.94 1318.48L678.11 1319.06L678.28 1319.66L678.44 1320.3L678.6 1321L678.79 1322.14L678.96 1323.44L679.11 1324.82L679.28 1326.2L679.47 1327.48L679.7 1328.6L679.88 1329.27L680.07 1329.89L680.26 1330.47L680.48 1331.01L680.72 1331.52L681 1332L681.28 1332.39L681.58 1332.73L681.91 1333.06L682.24 1333.37L682.58 1333.68L682.9 1334L684.05 1334.3L685.17 1334.61L686.29 1334.92L687.45 1335.22L688.67 1335.52L690 1335.8L691.98 1336.17L694.08 1336.53L696.31 1336.87L698.69 1337.19L701.25 1337.5L704 1337.8L708.82 1338.25L714.24 1338.68L720.09 1339.07L726.19 1339.43L732.39 1339.74L738.5 1340L744.95 1340.21L751.27 1340.35L757.69 1340.44L764.46 1340.49L771.82 1340.54L780 1340.6L796.07 1340.71L814.61 1340.79L834.79 1340.85L855.8 1340.89L876.81 1340.94L897 1341" stroke="#0000ff" stroke-dasharray="15.2 3.6 7.2 3.6" stroke-dashoffset="26"/>
<path d="M175 1341L184.2 1340.94L193.43 1340.88L202.66 1340.83L211.86 1340.77L220.99 1340.69L230 1340.6L238.54 1340.5L247.05 1340.38L255.5 1340.26L263.83 1340.12L272.02 1339.97L280 1339.8L287.03 1339.63L294.01 1339.46L300.86 1339.27L307.53 1339.06L313.93 1338.84L320 1338.6L324.58 1338.39L329 1338.17L333.26 1337.94L337.36 1337.69L341.27 1337.45L345 1337.2L347.82 1336.99L350.6 1336.77L353.28 1336.54L355.78 1336.32L358.04 1336.14L360 1336L360.92 1335.95L361.73 1335.91L362.46 1335.88L363.16 1335.85L363.86 1335.83L364.6 1335.8" stroke="#e07e00" stroke-dasharray="3.5 3.9"/>
<path d="M365.2 1040.6L365.1 1335.5" stroke="#e07e00" stroke-dasharray="3.5 3.9"/>
<path d="M365.4 1040.6L365.64 1044.39L365.86 1048.25L366.08 1052.1L366.32 1055.89L366.59 1059.55L366.9 1063L367.2 1065.67L367.55 1068.28L367.91 1070.8L368.27 1073.21L368.61 1075.49L368.9 1077.6L369.08 1078.98L369.24 1080.25L369.39 1081.46L369.53 1082.63L369.67 1083.8L369.8 1085L369.93 1086.18L370.04 1087.31L370.15 1088.45L370.26 1089.62L370.38 1090.86L370.5 1092.2L370.69 1094.3L370.88 1096.57L371.09 1098.98L371.29 1101.49L371.5 1104.08L371.7 1106.7L371.92 1109.87L372.11 1113.14L372.31 1116.5L372.52 1119.98L372.78 1123.57L373.1 1127.3L373.6 1132.25L374.2 1137.54L374.85 1143.01L375.56 1148.52L376.28 1153.9L377 1159L377.62 1163.2L378.23 1167.28L378.86 1171.27L379.52 1175.19L380.23 1179.05L381 1182.9L381.78 1186.49L382.58 1190L383.44 1193.48L384.33 1196.94L385.29 1200.44L386.3 1204L387.47 1207.91L388.72 1211.88L390.02 1215.89L391.38 1219.91L392.78 1223.92L394.2 1227.9L395.66 1231.89L397.16 1235.86L398.69 1239.83L400.26 1243.79L401.87 1247.75L403.5 1251.7L405.18 1255.72L406.9 1259.78L408.65 1263.83L410.43 1267.84L412.25 1271.74L414.1 1275.5L415.81 1278.79L417.56 1282.01L419.34 1285.15L421.13 1288.2L422.92 1291.15L424.7 1294L426.2 1296.4L427.67 1298.72L429.13 1300.98L430.63 1303.16L432.21 1305.27L433.9 1307.3L435.7 1309.25L437.6 1311.14L439.57 1312.95L441.61 1314.69L443.69 1316.34L445.8 1317.9L447.87 1319.33L449.97 1320.68L452.11 1321.94L454.32 1323.13L456.6 1324.25L459 1325.3L461.86 1326.4L464.86 1327.39L467.96 1328.3L471.14 1329.12L474.37 1329.89L477.6 1330.6L481.01 1331.28L484.45 1331.86L487.95 1332.37L491.49 1332.83L495.11 1333.27L498.8 1333.7L503.12 1334.17L507.66 1334.63L512.29 1335.04L516.85 1335.42L521.2 1335.74L525.2 1336L527.86 1336.17L530.29 1336.32L532.6 1336.44L534.91 1336.52L537.34 1336.55L540 1336.5L543.98 1336.31L548.27 1335.97L552.78 1335.54L557.39 1335.04L562 1334.52L566.5 1334L570.95 1333.48L575.46 1332.93L579.96 1332.36L584.4 1331.76L588.73 1331.14L592.9 1330.5L596.37 1329.93L599.76 1329.32L603.06 1328.71L606.28 1328.09L609.43 1327.48L612.5 1326.9L615.1 1326.36L617.62 1325.76L620.08 1325.17L622.5 1324.66L624.9 1324.28L627.3 1324.1L629.56 1324.16L631.78 1324.41L633.99 1324.77L636.19 1325.2L638.39 1325.63L640.6 1326L642.8 1326.31L645 1326.63L647.2 1326.94L649.4 1327.25L651.6 1327.57L653.8 1327.9L656.04 1328.23L658.33 1328.56L660.61 1328.9L662.85 1329.25L665 1329.61L667 1330L668.43 1330.31L669.75 1330.63L671.01 1330.95L672.27 1331.3L673.58 1331.68L675 1332.1L677 1332.77L679.11 1333.57L681.3 1334.42L683.57 1335.25L685.87 1336.01L688.2 1336.6L690.66 1337.04L693.11 1337.33L695.61 1337.52L698.21 1337.67L700.99 1337.81L704 1338L708.94 1338.35L714.39 1338.72L720.22 1339.08L726.27 1339.43L732.41 1339.74L738.5 1340L744.95 1340.22L751.27 1340.39L757.69 1340.52L764.46 1340.62L771.82 1340.71L780 1340.8L796.07 1340.92L814.61 1340.97L834.79 1340.99L855.8 1340.99L876.81 1340.98L897 1341" stroke="#e07e00" stroke-dasharray="3.5 3.9" stroke-dashoffset="2.8"/>
</g>
<text x="217.5" y="818.3" font-size="42.8">(b)</text>
<path d="M755.25 802H792.75" stroke="#000000" stroke-width="3.9" fill="none"/>
<text transform="translate(796.2 815.9) scale(1 1.02)" font-size="38.5" style="fill:#000000">25 ns</text>
<path d="M755.25 846H792.75" stroke="#ff0000" stroke-width="3.9" fill="none" stroke-dasharray="15.2 14.4"/>
<text transform="translate(796.2 859.9) scale(1 1.02)" font-size="38.5" style="fill:#ff0000">30 ns</text>
<path d="M755.25 890H792.75" stroke="#0000ff" stroke-width="3.9" fill="none" stroke-dasharray="15.2 3.6 7.2 3.6"/>
<text transform="translate(796.2 903.9) scale(1 1.02)" font-size="38.5" style="fill:#0000ff">35 ns</text>
<path d="M755.25 934H792.75" stroke="#e07e00" stroke-width="3.9" fill="none" stroke-dasharray="3.5 3.9"/>
<text transform="translate(796.2 947.9) scale(1 1.02)" font-size="38.5" style="fill:#e07e00">40 ns</text>
</g>
<g id="panel-c">
<clipPath id="clip-c"><rect x="175" y="1526.1" width="723.7" height="578"/></clipPath>
<rect x="175" y="1522.9" width="721.7" height="576" fill="none" stroke="#000" stroke-width="2.0"/>
<path d="M175 2098.9v8.1M175 1522.9v-8.1M295.28 2098.9v8.1M295.28 1522.9v-8.1M415.57 2098.9v8.1M415.57 1522.9v-8.1M535.85 2098.9v8.1M535.85 1522.9v-8.1M656.13 2098.9v8.1M656.13 1522.9v-8.1M776.42 2098.9v8.1M776.42 1522.9v-8.1M896.7 2098.9v8.1M896.7 1522.9v-8.1M175 2098.9h-8.1M896.7 2098.9h8.1M175 2016.61h-8.1M896.7 2016.61h8.1M175 1934.33h-8.1M896.7 1934.33h8.1M175 1852.04h-8.1M896.7 1852.04h8.1M175 1769.76h-8.1M896.7 1769.76h8.1M175 1687.47h-8.1M896.7 1687.47h8.1M175 1605.19h-8.1M896.7 1605.19h8.1M175 1522.9h-8.1M896.7 1522.9h8.1" fill="none" stroke="#000" stroke-width="2.0"/>
<text transform="translate(174.4 2157.65) scale(1.015 1.05)" font-size="42.8" text-anchor="middle">-6</text>
<text transform="translate(294.68 2157.65) scale(1.015 1.05)" font-size="42.8" text-anchor="middle">-4</text>
<text transform="translate(414.97 2157.65) scale(1.015 1.05)" font-size="42.8" text-anchor="middle">-2</text>
<text transform="translate(535.25 2157.65) scale(1.015 1.05)" font-size="42.8" text-anchor="middle">0</text>
<text transform="translate(655.53 2157.65) scale(1.015 1.05)" font-size="42.8" text-anchor="middle">2</text>
<text transform="translate(775.82 2157.65) scale(1.015 1.05)" font-size="42.8" text-anchor="middle">4</text>
<text transform="translate(896.1 2157.65) scale(1.015 1.05)" font-size="42.8" text-anchor="middle">6</text>
<text transform="translate(156.5 2114.7) scale(1.015 1.05)" font-size="42.8" text-anchor="end">0</text>
<text transform="translate(156.5 2032.41) scale(1.015 1.05)" font-size="42.8" text-anchor="end">1000</text>
<text transform="translate(156.5 1950.13) scale(1.015 1.05)" font-size="42.8" text-anchor="end">2000</text>
<text transform="translate(156.5 1867.84) scale(1.015 1.05)" font-size="42.8" text-anchor="end">3000</text>
<text transform="translate(156.5 1785.56) scale(1.015 1.05)" font-size="42.8" text-anchor="end">4000</text>
<text transform="translate(156.5 1703.27) scale(1.015 1.05)" font-size="42.8" text-anchor="end">5000</text>
<text transform="translate(156.5 1620.99) scale(1.015 1.05)" font-size="42.8" text-anchor="end">6000</text>
<text transform="translate(156.5 1538.7) scale(1.015 1.05)" font-size="42.8" text-anchor="end">7000</text>
<text x="540.05" y="2209.5" font-size="47.5" text-anchor="middle"><tspan font-style="italic">x</tspan> [mm]</text>
<text transform="translate(41.1 1812.3) rotate(-90)" font-size="47.5" text-anchor="middle">p [atm]</text>
<g clip-path="url(#clip-c)" fill="none" stroke-width="3.9" stroke-linejoin="round">
<path d="M175 2098.7L187.68 2098.67L200.56 2098.65L213.45 2098.62L226.12 2098.59L238.38 2098.55L250 2098.5L258.98 2098.45L267.62 2098.4L275.98 2098.34L284.12 2098.27L292.11 2098.19L300 2098.1L307.06 2098L314.1 2097.89L321.02 2097.77L327.71 2097.64L334.07 2097.52L340 2097.4L344.09 2097.3L347.95 2097.2L351.64 2097.09L355.18 2097L358.62 2096.93L362 2096.9L364.8 2096.95L367.51 2097.07L370.16 2097.2L372.73 2097.31L375.25 2097.32L377.7 2097.2L379.8 2096.97L381.84 2096.66L383.84 2096.27L385.79 2095.84L387.71 2095.38L389.6 2094.9L391.31 2094.42L392.97 2093.88L394.61 2093.31L396.23 2092.75L397.85 2092.2L399.5 2091.7L401.17 2091.23L402.86 2090.75L404.56 2090.29L406.24 2089.88L407.89 2089.54L409.5 2089.3L410.84 2089.17L412.11 2089.12L413.36 2089.11L414.63 2089.15L415.97 2089.22L417.4 2089.3L419.49 2089.49L421.75 2089.78L424.11 2090.12L426.52 2090.46L428.94 2090.74L431.3 2090.9L433.59 2090.91L435.87 2090.8L438.14 2090.63L440.44 2090.45L442.78 2090.33L445.2 2090.3L448.03 2090.41L450.93 2090.61L453.9 2090.88L456.91 2091.17L459.95 2091.46L463 2091.7L466.27 2091.91L469.61 2092.1L472.98 2092.28L476.34 2092.47L479.66 2092.67L482.9 2092.9L485.81 2093.14L488.65 2093.39L491.45 2093.66L494.25 2093.94L497.09 2094.22L500 2094.5L503.28 2094.82L506.66 2095.15L510.08 2095.49L513.49 2095.82L516.81 2096.13L520 2096.4L522.69 2096.62L525.38 2096.83L528.01 2097.02L530.53 2097.19L532.88 2097.32L535 2097.4L536.23 2097.43L537.31 2097.46L538.32 2097.48L539.32 2097.46L540.4 2097.41L541.6 2097.3L543.63 2097.04L545.87 2096.67L548.24 2096.22L550.69 2095.71L553.13 2095.16L555.5 2094.6L557.82 2093.98L560.14 2093.29L562.45 2092.56L564.76 2091.83L567.07 2091.17L569.4 2090.6L571.7 2090.14L574.02 2089.75L576.33 2089.42L578.66 2089.12L580.98 2088.85L583.3 2088.6L585.63 2088.39L587.97 2088.24L590.32 2088.11L592.65 2087.98L594.95 2087.82L597.2 2087.6L599.24 2087.33L601.24 2087.02L603.21 2086.68L605.17 2086.33L607.13 2085.96L609.1 2085.6L611.11 2085.2L613.16 2084.74L615.2 2084.28L617.21 2083.85L619.15 2083.51L621 2083.3L622.4 2083.23L623.72 2083.23L625 2083.28L626.27 2083.38L627.56 2083.52L628.9 2083.7L630.51 2083.98L632.2 2084.35L633.91 2084.78L635.6 2085.22L637.25 2085.64L638.8 2086L639.99 2086.29L641.11 2086.59L642.21 2086.89L643.29 2087.13L644.38 2087.28L645.5 2087.3L646.77 2087.17L648.07 2086.9L649.39 2086.53L650.7 2086.08L651.98 2085.56L653.2 2085L654.39 2084.4L655.56 2083.74L656.7 2083.01L657.8 2082.22L658.84 2081.35L659.8 2080.4L660.74 2079.29L661.61 2078.08L662.41 2076.78L663.15 2075.41L663.84 2073.98L664.5 2072.5L665.19 2070.71L665.81 2068.82L666.35 2066.85L666.86 2064.82L667.33 2062.73L667.8 2060.6L668.31 2058.11L668.79 2055.53L669.22 2052.88L669.63 2050.18L670.02 2047.45L670.4 2044.7L670.79 2041.71L671.15 2038.67L671.5 2035.59L671.82 2032.47L672.12 2029.34L672.4 2026.2L672.66 2022.96L672.89 2019.73L673.1 2016.48L673.3 2013.17L673.5 2009.79L673.7 2006.3L673.94 2002.06L674.19 1997.61L674.43 1993.05L674.67 1988.49L674.89 1984.04L675.1 1979.8L675.27 1976.36L675.43 1973.07L675.58 1969.86L675.72 1966.66L675.86 1963.4L676 1960L676.15 1955.97L676.29 1951.78L676.43 1947.52L676.56 1943.24L676.68 1939.05L676.8 1935L676.9 1931.51L676.98 1928.11L677.06 1924.77L677.14 1921.45L677.22 1918.14L677.3 1914.8L677.48 1918.99L677.66 1923.17L677.84 1927.36L678.02 1931.55L678.21 1935.76L678.4 1940L678.61 1944.36L678.83 1948.71L679.05 1953.07L679.27 1957.49L679.49 1961.99L679.7 1966.6L679.93 1971.87L680.16 1977.25L680.39 1982.74L680.61 1988.31L680.81 1993.97L681 1999.7L681.18 2006.11L681.35 2012.67L681.5 2019.33L681.64 2026.04L681.77 2032.74L681.9 2039.4L682.02 2046.29L682.13 2053.51L682.23 2060.74L682.33 2067.62L682.45 2073.82L682.6 2079L682.68 2081.28L682.75 2083.35L682.82 2085.23L682.91 2086.94L683.03 2088.52L683.2 2090L683.32 2090.93L683.43 2091.82L683.55 2092.66L683.71 2093.42L683.92 2094.07L684.2 2094.6L684.42 2094.85L684.68 2095.04L684.95 2095.19L685.24 2095.32L685.52 2095.45L685.8 2095.6L687.43 2095.15L689.05 2094.69L690.67 2094.23L692.3 2093.78L693.94 2093.37L695.6 2093L697.36 2092.67L699.17 2092.39L700.99 2092.13L702.79 2091.9L704.54 2091.69L706.2 2091.5L707.53 2091.32L708.83 2091.13L710.11 2090.94L711.32 2090.81L712.46 2090.75L713.5 2090.8L714.17 2090.9L714.8 2091.04L715.39 2091.22L715.95 2091.44L716.48 2091.7L717 2092L717.48 2092.36L717.91 2092.78L718.32 2093.23L718.72 2093.71L719.14 2094.17L719.6 2094.6L720.09 2095.04L720.56 2095.48L721.05 2095.91L721.6 2096.32L722.23 2096.68L723 2097L724.97 2097.43L727.4 2097.63L730.2 2097.67L733.3 2097.63L736.59 2097.58L740 2097.6L745.45 2097.7L751.31 2097.78L757.64 2097.84L764.49 2097.89L771.92 2097.94L780 2098L795.95 2098.11L814.46 2098.21L834.67 2098.31L855.73 2098.4L876.79 2098.5L897 2098.6" stroke="#000000"/>
<path d="M175 2098.7L187.68 2098.67L200.56 2098.65L213.45 2098.62L226.12 2098.59L238.38 2098.55L250 2098.5L258.98 2098.45L267.62 2098.4L275.98 2098.34L284.12 2098.27L292.11 2098.19L300 2098.1L307.06 2098L314.1 2097.89L321.02 2097.77L327.71 2097.64L334.07 2097.52L340 2097.4L344.11 2097.3L348.03 2097.19L351.77 2097.09L355.33 2096.99L358.74 2096.92L362 2096.9L364.4 2096.95L366.72 2097.07L368.93 2097.2L371.05 2097.31L373.08 2097.32L375 2097.2L376.42 2097.01L377.77 2096.76L379.07 2096.46L380.31 2096.11L381.52 2095.72L382.7 2095.3L383.76 2094.89L384.78 2094.44L385.78 2093.97L386.74 2093.45L387.68 2092.9L388.6 2092.3L389.47 2091.6L390.28 2090.81L391.07 2089.97L391.86 2089.16L392.69 2088.41L393.6 2087.8L394.55 2087.33L395.52 2086.96L396.53 2086.65L397.6 2086.41L398.75 2086.2L400 2086L402.13 2085.76L404.52 2085.62L407.1 2085.55L409.76 2085.55L412.43 2085.61L415 2085.7L417.5 2085.89L420 2086.19L422.5 2086.54L425 2086.89L427.5 2087.16L430 2087.3L432.56 2087.29L435.21 2087.17L437.85 2086.97L440.42 2086.74L442.83 2086.51L445 2086.3L446.28 2086.16L447.41 2086L448.46 2085.84L449.52 2085.7L450.67 2085.58L452 2085.5L454.57 2085.46L457.55 2085.51L460.76 2085.62L464.02 2085.79L467.16 2086.02L470 2086.3L471.97 2086.56L473.8 2086.86L475.55 2087.2L477.29 2087.56L479.08 2087.93L481 2088.3L483.52 2088.77L486.2 2089.28L488.96 2089.81L491.72 2090.33L494.43 2090.84L497 2091.3L499.06 2091.66L501 2092.01L502.89 2092.33L504.81 2092.65L506.82 2092.97L509 2093.3L512.2 2093.79L515.69 2094.35L519.35 2094.91L523.04 2095.41L526.63 2095.79L530 2096L532.66 2096.02L535.22 2095.93L537.73 2095.76L540.18 2095.53L542.59 2095.27L545 2095L547.23 2094.73L549.43 2094.41L551.6 2094.07L553.74 2093.71L555.88 2093.35L558 2093L560.02 2092.66L562 2092.31L563.97 2091.96L565.95 2091.62L567.95 2091.3L570 2091L572.27 2090.71L574.58 2090.42L576.93 2090.16L579.29 2089.93L581.65 2089.74L584 2089.6L586.32 2089.5L588.63 2089.44L590.94 2089.42L593.27 2089.44L595.61 2089.5L598 2089.6L600.63 2089.78L603.32 2090.06L606.04 2090.37L608.75 2090.7L611.42 2090.98L614 2091.2L616.24 2091.33L618.43 2091.42L620.58 2091.49L622.72 2091.53L624.85 2091.57L627 2091.6L629.2 2091.64L631.45 2091.68L633.7 2091.71L635.9 2091.72L638.02 2091.69L640 2091.6L641.44 2091.53L642.79 2091.47L644.09 2091.38L645.37 2091.23L646.66 2090.99L648 2090.6L649.71 2089.88L651.45 2088.94L653.2 2087.84L654.97 2086.67L656.74 2085.5L658.5 2084.4" stroke="#ff0000" stroke-dasharray="15.2 14.4"/>
<path d="M693 1707.2L692.94 1715.98L692.88 1724.74L692.82 1733.5L692.76 1742.29L692.69 1751.11L692.6 1760L692.49 1769.24L692.36 1778.54L692.22 1787.9L692.08 1797.27L691.94 1806.65L691.8 1816" stroke="#ff0000" stroke-dasharray="18.5 11.15"/>
<path d="M691.6 1829.3L691.5 1835.99L691.4 1842.58L691.3 1849.16L691.2 1855.85L691.1 1862.76L691 1870L690.87 1879.41L690.74 1889.41L690.6 1899.72L690.48 1910.1L690.37 1920.28L690.3 1930L690.3 1938.39L690.37 1946.78L690.45 1955.02L690.5 1962.94L690.47 1970.38L690.3 1977.2L690.09 1981.49L689.83 1985.45L689.52 1989.18L689.19 1992.78L688.85 1996.35L688.5 2000L688.14 2003.57L687.75 2007.14L687.34 2010.69L686.94 2014.18L686.59 2017.59L686.3 2020.9L686.12 2023.66L685.98 2026.33L685.88 2028.94L685.79 2031.51L685.7 2034.09L685.6 2036.7L684.47 2038.66L683.32 2040.59L682.16 2042.52L681.03 2044.48L679.97 2046.49L679 2048.6L678.12 2051.04L677.39 2053.61L676.74 2056.26L676.08 2058.9L675.33 2061.47L674.4 2063.9L673.37 2066.05L672.25 2068.14L671.05 2070.17L669.79 2072.13L668.46 2074L667.1 2075.8L665.77 2077.37L664.36 2078.85L662.91 2080.25L661.43 2081.62L659.95 2082.99L658.5 2084.4" stroke="#ff0000" stroke-dasharray="15.2 14.4"/>
<path d="M695.7 1551.2L695.7 1700" stroke="#ff0000" stroke-dasharray="17 12.65" stroke-dashoffset="7.6"/>
<path d="M695.7 1691.2L695.75 1715.94L695.8 1740.6L695.86 1765.26L695.91 1790L695.96 1814.89L696 1840L696.04 1866.84L696.08 1894.55L696.12 1922.41L696.15 1949.74L696.18 1975.84L696.2 2000L696.21 2016.72L696.21 2032.38L696.21 2047.34L696.2 2061.94L696.2 2076.54L696.2 2091.5" stroke="#ff0000" stroke-dasharray="15.2 14.4"/>
<path d="M708 2096L710.35 2095.95L712.73 2095.93L715.11 2095.91L717.46 2095.86L719.77 2095.77L722 2095.6L723.92 2095.38L725.79 2095.1L727.62 2094.78L729.42 2094.44L731.21 2094.11L733 2093.8L734.7 2093.49L736.39 2093.15L738.06 2092.81L739.72 2092.51L741.37 2092.29L743 2092.2L744.53 2092.24L746.06 2092.38L747.57 2092.59L749.06 2092.85L750.54 2093.13L752 2093.4L753.36 2093.71L754.71 2094.09L756.04 2094.5L757.35 2094.86L758.67 2095.11L760 2095.2L761.32 2095.05L762.63 2094.7L763.94 2094.24L765.26 2093.78L766.61 2093.4L768 2093.2L769.58 2093.2L771.18 2093.35L772.82 2093.6L774.5 2093.92L776.23 2094.26L778 2094.6L780.12 2095.04L782.24 2095.57L784.41 2096.13L786.72 2096.69L789.23 2097.2L792 2097.6L797.12 2098.01L802.88 2098.2L809.15 2098.25L815.84 2098.22L822.83 2098.18L830 2098.2L840.07 2098.29L850.94 2098.37L862.32 2098.43L873.97 2098.48L885.61 2098.54L897 2098.6" stroke="#ff0000" stroke-dasharray="15.2 14.4"/>
<path d="M175 2098.7L187.68 2098.67L200.56 2098.65L213.45 2098.62L226.12 2098.59L238.38 2098.55L250 2098.5L258.98 2098.45L267.62 2098.4L275.98 2098.34L284.12 2098.27L292.11 2098.19L300 2098.1L307.06 2098L314.1 2097.89L321.02 2097.77L327.71 2097.64L334.07 2097.52L340 2097.4L344.14 2097.3L348.13 2097.19L351.94 2097.08L355.54 2096.98L358.9 2096.92L362 2096.9L363.92 2096.95L365.7 2097.07L367.38 2097.19L368.97 2097.29L370.5 2097.31L372 2097.2L373.2 2097L374.34 2096.71L375.44 2096.37L376.52 2096.01L377.6 2095.64L378.7 2095.3L379.01 2094.29L379.29 2093.26L379.58 2092.24L379.89 2091.22L380.25 2090.24L380.7 2089.3L381.23 2088.38L381.82 2087.48L382.46 2086.6L383.16 2085.77L383.91 2085L384.7 2084.3L385.56 2083.7L386.49 2083.21L387.46 2082.78L388.48 2082.36L389.53 2081.92L390.6 2081.4L391.98 2080.65L393.42 2079.84L394.9 2078.98L396.42 2078.11L397.96 2077.24L399.5 2076.4L401.16 2075.56L402.9 2074.75L404.65 2073.95L406.37 2073.13L408.01 2072.29L409.5 2071.4L410.63 2070.66L411.71 2069.92L412.72 2069.17L413.68 2068.37L414.57 2067.49L415.4 2066.5L416.24 2065.23L416.98 2063.81L417.64 2062.29L418.24 2060.72L418.82 2059.14L419.4 2057.6L419.95 2056.04L420.45 2054.39L420.93 2052.73L421.4 2051.16L421.89 2049.75L422.4 2048.6L422.7 2048.03L423 2047.48L423.31 2046.98L423.62 2046.58L423.95 2046.31L424.3 2046.2L424.75 2046.34L425.24 2046.73L425.74 2047.32L426.26 2048.04L426.78 2048.82L427.3 2049.6L428.09 2050.93L428.88 2052.5L429.68 2054.22L430.5 2056.02L431.37 2057.8L432.3 2059.5L433.32 2061.21L434.38 2062.91L435.49 2064.61L436.65 2066.29L437.89 2067.92L439.2 2069.5L440.66 2071.11L442.18 2072.71L443.79 2074.25L445.47 2075.73L447.24 2077.12L449.1 2078.4L451.2 2079.61L453.43 2080.68L455.76 2081.65L458.15 2082.55L460.57 2083.42L463 2084.3L465.55 2085.22L468.13 2086.11L470.74 2086.96L473.4 2087.78L476.12 2088.56L478.9 2089.3L482.07 2090.07L485.35 2090.8L488.69 2091.48L492.07 2092.12L495.45 2092.73L498.8 2093.3L502.16 2093.85L505.59 2094.39L509.03 2094.88L512.4 2095.33L515.61 2095.71L518.6 2096L520.68 2096.16L522.64 2096.28L524.52 2096.37L526.35 2096.41L528.16 2096.42L530 2096.4L531.82 2096.37L533.66 2096.33L535.48 2096.26L537.27 2096.13L538.98 2095.92L540.6 2095.6L541.88 2095.2L543.08 2094.68L544.24 2094.11L545.36 2093.53L546.48 2093.01L547.6 2092.6L548.59 2092.32L549.56 2092.09L550.51 2091.89L551.48 2091.75L552.47 2091.65L553.5 2091.6L554.72 2091.64L555.97 2091.78L557.24 2091.99L558.56 2092.22L559.94 2092.43L561.4 2092.6L563.4 2092.75L565.51 2092.87L567.71 2092.97L570.02 2093.06L572.45 2093.13L575 2093.2L578.7 2093.28L582.69 2093.33L586.89 2093.36L591.22 2093.37L595.61 2093.39L600 2093.4L604.96 2093.42L610.19 2093.43L615.48 2093.44L620.68 2093.43L625.58 2093.42L630 2093.4L632.8 2093.41L635.43 2093.46L637.92 2093.51L640.29 2093.51L642.58 2093.42L644.8 2093.2L646.58 2092.93L648.28 2092.6L649.92 2092.22L651.52 2091.76L653.11 2091.23L654.7 2090.6L656.4 2089.84L658.08 2088.99L659.75 2088.05L661.4 2087.02L663.02 2085.91L664.6 2084.7L666.3 2083.17L667.93 2081.42L669.53 2079.56L671.12 2077.7L672.73 2075.94L674.4 2074.4L675.96 2073.23L677.61 2072.17L679.28 2071.19L680.89 2070.26L682.39 2069.38L683.7 2068.5L684.47 2067.86L685.16 2067.18L685.79 2066.52L686.39 2065.93L686.99 2065.47L687.6 2065.2L688.06 2065.14L688.52 2065.18L688.97 2065.29L689.42 2065.45L689.86 2065.63L690.3 2065.8L690.74 2066.02L691.18 2066.31L691.61 2066.62L692.04 2066.91L692.47 2067.12L692.9 2067.2L693.36 2067.16L693.85 2067.04L694.34 2066.84L694.8 2066.57L695.23 2066.22L695.6 2065.8L696.04 2064.93L696.32 2063.81L696.49 2062.49L696.61 2061.04L696.73 2059.49L696.9 2057.9L697.24 2055.28L697.59 2052.34L697.94 2049.18L698.29 2045.91L698.61 2042.61L698.9 2039.4L699.17 2036.13L699.41 2032.82L699.62 2029.5L699.83 2026.16L700.02 2022.82L700.2 2019.5L700.37 2016.2L700.52 2012.9L700.66 2009.6L700.8 2006.3L700.94 2003L701.1 1999.7L701.27 1996.36L701.45 1992.98L701.64 1989.61L701.82 1986.26L702.01 1982.98L702.2 1979.8L702.37 1977.04L702.54 1974.33L702.71 1971.67L702.87 1969.06L703.04 1966.51L703.2 1964L703.3 1961.76L703.36 1959.5L703.41 1957.28L703.51 1955.16L703.69 1953.22L704 1951.5L704.29 1950.53L704.64 1949.67L705.02 1948.89L705.42 1948.14L705.82 1947.39L706.2 1946.6L706.34 1949.09L706.49 1951.48L706.64 1953.87L706.78 1956.36L706.9 1959.04L707 1962L707.1 1967.15L707.15 1972.77L707.15 1978.85L707.14 1985.41L707.11 1992.45L707.1 2000L707.08 2013.63L707.04 2029.13L706.99 2045.89L706.92 2063.27L706.86 2080.65L706.8 2097.4L709.36 2097.19L711.96 2096.97L714.55 2096.75L717.11 2096.54L719.61 2096.35L722 2096.2L723.94 2096.1L725.82 2096.03L727.64 2095.97L729.44 2095.92L731.22 2095.87L733 2095.8L734.7 2095.71L736.39 2095.61L738.06 2095.5L739.72 2095.4L741.37 2095.33L743 2095.3L744.53 2095.32L746.05 2095.37L747.56 2095.44L749.06 2095.53L750.54 2095.62L752 2095.7L753.35 2095.78L754.66 2095.88L755.96 2095.99L757.26 2096.08L758.6 2096.16L760 2096.2L761.7 2096.19L763.48 2096.13L765.3 2096.04L767.13 2095.95L768.94 2095.9L770.7 2095.9L772.27 2095.96L773.81 2096.06L775.32 2096.18L776.84 2096.32L778.39 2096.46L780 2096.6L781.83 2096.76L783.64 2096.93L785.48 2097.12L787.44 2097.29L789.59 2097.46L792 2097.6L796.97 2097.79L802.69 2097.92L809 2098.01L815.75 2098.07L822.8 2098.13L830 2098.2L840.07 2098.29L850.94 2098.37L862.32 2098.43L873.97 2098.48L885.61 2098.54L897 2098.6" stroke="#0000ff" stroke-dasharray="15.2 3.6 7.2 3.6"/>
<path d="M175 2098.7L187.68 2098.67L200.56 2098.65L213.45 2098.62L226.12 2098.59L238.38 2098.55L250 2098.5L258.98 2098.45L267.62 2098.4L275.98 2098.34L284.12 2098.27L292.11 2098.19L300 2098.1L307.06 2098L314.1 2097.89L321.02 2097.77L327.71 2097.64L334.07 2097.52L340 2097.4L344.1 2097.3L348.01 2097.2L351.73 2097.09L355.29 2096.99L358.71 2096.93L362 2096.9L364.51 2097L366.92 2097.21L369.24 2097.45L371.48 2097.6L373.63 2097.55L375.7 2097.2L377.56 2096.62L379.38 2095.86L381.12 2094.94L382.77 2093.87L384.27 2092.65L385.6 2091.3L386.79 2089.69L387.77 2087.9L388.6 2085.94L389.31 2083.85L389.97 2081.66L390.6 2079.4L391.31 2076.43L391.88 2073.25L392.34 2069.91L392.75 2066.48L393.16 2062.99L393.6 2059.5L394.12 2055.58L394.64 2051.49L395.15 2047.34L395.65 2043.24L396.14 2039.32L396.6 2035.7L396.92 2033.1L397.22 2030.59L397.5 2028.17L397.79 2025.89L398.12 2023.76L398.5 2021.8L398.8 2020.58L399.13 2019.47L399.46 2018.44L399.81 2017.44L400.16 2016.44L400.5 2015.4L401 2016.43L401.49 2017.42L401.99 2018.41L402.49 2019.44L402.99 2020.55L403.5 2021.8L404.29 2024.06L405.07 2026.66L405.86 2029.46L406.69 2032.33L407.56 2035.12L408.5 2037.7L409.38 2039.82L410.28 2041.85L411.21 2043.82L412.2 2045.76L413.26 2047.68L414.4 2049.6L415.68 2051.68L417.03 2053.79L418.46 2055.89L419.97 2057.91L421.58 2059.8L423.3 2061.5L425.08 2062.92L426.98 2064.16L428.97 2065.28L431.04 2066.33L433.15 2067.38L435.3 2068.5L437.79 2069.83L440.38 2071.16L443.04 2072.5L445.73 2073.83L448.43 2075.13L451.1 2076.4L453.73 2077.63L456.38 2078.83L459.02 2080.02L461.68 2081.17L464.34 2082.3L467 2083.4L469.64 2084.47L472.27 2085.52L474.92 2086.55L477.57 2087.54L480.23 2088.46L482.9 2089.3L485.51 2090.04L488.11 2090.7L490.71 2091.3L493.35 2091.86L496.04 2092.38L498.8 2092.9L502.03 2093.47L505.44 2094.03L508.91 2094.55L512.33 2095.02L515.6 2095.41L518.6 2095.7L520.65 2095.84L522.6 2095.92L524.46 2095.95L526.26 2095.96L528 2095.97L529.7 2096L531.13 2096.09L532.56 2096.26L533.94 2096.42L535.26 2096.51L536.49 2096.46L537.6 2096.2L538.4 2095.81L539.12 2095.3L539.77 2094.69L540.38 2094.01L540.98 2093.31L541.6 2092.6L542.27 2091.73L542.88 2090.73L543.48 2089.68L544.11 2088.69L544.8 2087.83L545.6 2087.2L546.47 2086.8L547.43 2086.53L548.45 2086.38L549.49 2086.34L550.52 2086.42L551.5 2086.6L552.51 2087.01L553.49 2087.65L554.45 2088.42L555.42 2089.24L556.43 2090L557.5 2090.6L558.7 2091.08L559.93 2091.49L561.2 2091.83L562.53 2092.12L563.93 2092.37L565.4 2092.6L567.45 2092.83L569.64 2092.98L571.94 2093.06L574.33 2093.1L576.79 2093.14L579.3 2093.2L582.35 2093.29L585.49 2093.38L588.73 2093.46L592.07 2093.53L595.53 2093.58L599.1 2093.6L603.87 2093.61L609.08 2093.61L614.46 2093.58L619.74 2093.51L624.64 2093.38L628.9 2093.2L631.23 2093.07L633.39 2092.96L635.39 2092.82L637.28 2092.63L639.07 2092.37L640.8 2092L642.11 2091.6L643.32 2091.11L644.47 2090.57L645.6 2090.02L646.76 2089.49L648 2089L649.46 2088.51L650.96 2088.03L652.51 2087.58L654.07 2087.15L655.64 2086.76L657.2 2086.4L658.72 2086.08L660.22 2085.8L661.73 2085.55L663.27 2085.33L664.85 2085.15L666.5 2085L668.56 2084.91L670.73 2084.91L672.95 2084.97L675.21 2085.03L677.47 2085.05L679.7 2085L681.93 2084.85L684.19 2084.64L686.45 2084.4L688.67 2084.14L690.83 2083.9L692.9 2083.7L694.61 2083.65L696.34 2083.7L698.02 2083.77L699.6 2083.75L701.01 2083.52L702.2 2083L703.04 2082.24L703.72 2081.25L704.27 2080.11L704.72 2078.88L705.12 2077.62L705.5 2076.4L705.84 2075.16L706.1 2073.89L706.3 2072.59L706.46 2071.26L706.62 2069.9L706.8 2068.5L707.02 2066.78L707.22 2064.95L707.42 2063.07L707.62 2061.22L707.84 2059.47L708.1 2057.9L708.31 2056.92L708.53 2056.03L708.77 2055.2L709.01 2054.38L709.25 2053.52L709.5 2052.6L709.82 2051.38L710.16 2050.1L710.51 2048.77L710.85 2047.42L711.15 2046.06L711.4 2044.7L711.59 2043.31L711.73 2041.9L711.83 2040.48L711.91 2039.05L712 2037.62L712.1 2036.2L712.17 2040.1L712.24 2043.93L712.32 2047.77L712.39 2051.67L712.45 2055.72L712.5 2060L712.54 2065.75L712.57 2071.84L712.58 2078.17L712.58 2084.62L712.59 2091.07L712.6 2097.4L717.07 2097.47L721.43 2097.54L725.79 2097.61L730.26 2097.67L734.96 2097.74L740 2097.8L747.25 2097.88L754.86 2097.94L762.89 2098.01L771.39 2098.07L780.41 2098.13L790 2098.2L805.51 2098.3L822.69 2098.4L840.99 2098.5L859.84 2098.6L878.7 2098.7L897 2098.8" stroke="#e07e00" stroke-dasharray="3.5 3.9"/>
</g>
<text x="240" y="1579" font-size="42.8">(c)</text>
<path d="M755.25 1559.4H792.75" stroke="#000000" stroke-width="3.9" fill="none"/>
<text transform="translate(796.2 1573.3) scale(1 1.02)" font-size="38.5" style="fill:#000000">25 ns</text>
<path d="M755.25 1603.4H792.75" stroke="#ff0000" stroke-width="3.9" fill="none" stroke-dasharray="15.2 14.4"/>
<text transform="translate(796.2 1617.3) scale(1 1.02)" font-size="38.5" style="fill:#ff0000">30 ns</text>
<path d="M755.25 1647.4H792.75" stroke="#0000ff" stroke-width="3.9" fill="none" stroke-dasharray="15.2 3.6 7.2 3.6"/>
<text transform="translate(796.2 1661.3) scale(1 1.02)" font-size="38.5" style="fill:#0000ff">35 ns</text>
<path d="M755.25 1691.4H792.75" stroke="#e07e00" stroke-width="3.9" fill="none" stroke-dasharray="3.5 3.9"/>
<text transform="translate(796.2 1705.3) scale(1 1.02)" font-size="38.5" style="fill:#e07e00">40 ns</text>
</g>
</svg></body></html>
